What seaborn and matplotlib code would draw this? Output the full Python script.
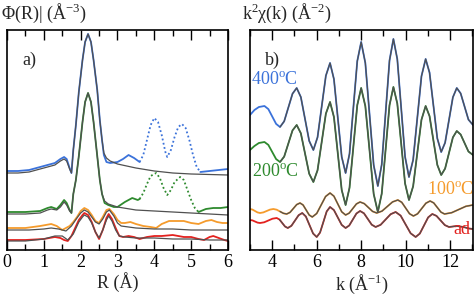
import numpy as np
import pandas as pd
import seaborn as sns
import matplotlib.pyplot as plt
from matplotlib.ticker import MultipleLocator

# ---------------- panel a) : |Phi(R)| (arbitrary offset units) ----------------
blue_R = [0.0, 0.3, 0.6, 0.9, 1.1, 1.3, 1.45, 1.55, 1.62, 1.7, 1.75, 1.8, 1.87, 1.95, 2.05, 2.12, 2.2,
          2.28, 2.35, 2.45, 2.52, 2.58, 2.63, 2.7, 2.8, 3.0, 3.15, 3.3, 3.45, 3.6,
          3.7, 3.8, 3.9, 4.0, 4.1, 4.2, 4.3, 4.35, 4.45, 4.55, 4.65, 4.75, 4.85, 4.95, 5.05, 5.15, 5.25,
          5.5, 5.75, 6.0]
blue_phi = [79, 79, 80, 83, 85, 87, 91, 93, 91, 82, 77, 100, 125, 158, 190, 208, 216,
            208, 190, 160, 130, 110, 95, 88, 87, 88, 91, 95, 92, 88,
            95, 110, 125, 132, 128, 115, 98, 93, 100, 113, 123, 126, 122, 110, 95, 83, 78,
            79, 80, 81]
blue_fit_R = [0.0, 0.3, 0.6, 0.9, 1.1, 1.3, 1.45, 1.55, 1.62, 1.7, 1.75, 1.8, 1.87, 1.95, 2.05, 2.12, 2.2,
              2.28, 2.35, 2.45, 2.52, 2.58, 2.63, 2.7, 2.8, 3.0, 3.5, 4.0, 4.5, 5.0, 5.5, 6.0]
blue_fit_phi = [77, 77, 78, 81, 83, 85, 89, 91, 89, 81, 77, 100, 125, 158, 190, 208, 216,
                208, 190, 160, 130, 110, 97, 92, 89, 86, 82, 79, 77, 76, 75.5, 75]

green_R = [0.0, 0.5, 0.9, 1.1, 1.2, 1.35, 1.45, 1.55, 1.62, 1.7, 1.75, 1.8, 1.87, 1.95, 2.05, 2.12, 2.2,
           2.28, 2.35, 2.45, 2.52, 2.58, 2.65, 2.75, 2.9, 3.0, 3.2, 3.4, 3.55, 3.6,
           3.7, 3.8, 3.9, 4.05, 4.15, 4.25, 4.35, 4.45, 4.55, 4.7, 4.8, 4.9, 5.0, 5.1, 5.2,
           5.4, 5.6, 5.8, 6.0]
green_phi = [38, 38, 39, 42, 43, 41, 45, 50, 47, 40, 37, 56, 70, 94, 128, 148, 157,
             148, 128, 94, 70, 56, 47, 45, 43, 43, 48, 52, 50, 51,
             57, 66, 74, 77, 72, 62, 55, 60, 68, 73, 70, 60, 50, 42, 38,
             41, 42, 42, 43]
green_fit_R = [0.0, 0.5, 0.9, 1.1, 1.2, 1.35, 1.45, 1.55, 1.62, 1.7, 1.75, 1.8, 1.87, 1.95, 2.05, 2.12, 2.2,
               2.28, 2.35, 2.45, 2.52, 2.58, 2.65, 2.75, 3.0, 3.5, 4.0, 4.5, 5.0, 5.5, 6.0]
green_fit_phi = [36, 36, 37, 40, 41, 40, 43, 48, 45, 39, 37, 56, 70, 94, 128, 148, 157,
                 148, 128, 94, 70, 56, 49, 46, 43, 40, 39, 38, 37, 36, 35]

orange_R = [0.0, 0.5, 0.9, 1.2, 1.35, 1.5, 1.6, 1.7, 1.8, 1.9, 2.0, 2.1, 2.2, 2.3, 2.4, 2.5, 2.6, 2.7, 2.78,
            2.9, 3.0, 3.1, 3.2, 3.35, 3.5, 3.7, 3.9, 4.05, 4.2, 4.4, 4.6, 4.8, 5.0, 5.2, 5.4, 5.55, 5.7,
            5.85, 6.0]
orange_phi = [22, 22, 24, 26, 24, 20, 22, 24, 28, 33, 39, 42, 40, 35, 29, 27, 33, 40, 41,
              36, 30, 27, 27, 28, 26, 24, 23, 22, 26, 29, 29, 29, 27, 26, 29, 30, 28,
              27, 27]
orange_fit_R = [0.0, 0.6, 1.0, 1.2, 1.4, 1.6, 1.75, 1.9, 2.0, 2.1, 2.2, 2.3, 2.4, 2.5, 2.6, 2.7, 2.78,
                2.9, 3.0, 3.1, 3.3, 3.5, 4.0, 4.5, 5.0, 6.0]
orange_fit_phi = [20, 20, 21, 22, 21, 19, 24, 32, 37, 40, 38, 33, 28, 26, 31, 38, 40,
                  34, 27, 24, 23, 22, 21, 21, 20, 20]

red_R = [0.0, 0.5, 1.0, 1.3, 1.45, 1.55, 1.65, 1.75, 1.85, 1.95, 2.05, 2.1, 2.2, 2.3, 2.4, 2.5, 2.6, 2.7,
         2.76, 2.85, 2.95, 3.05, 3.15, 3.3, 3.45, 3.6, 3.8, 4.0, 4.2, 4.5, 4.8, 5.0, 5.2, 5.35, 5.5,
         5.6, 5.75, 5.9, 6.0]
red_phi = [10, 10, 11, 13, 12, 10, 9, 14, 22, 30, 35, 37, 35, 28, 18, 11, 20, 32,
           36, 31, 22, 14, 13, 14, 13, 11, 13, 14, 14, 15, 13, 13, 11, 10, 13,
           14, 12, 10, 9]
red_fit_R = [0.0, 0.5, 1.0, 1.3, 1.5, 1.65, 1.8, 1.95, 2.05, 2.1, 2.2, 2.3, 2.4, 2.5, 2.6, 2.7, 2.76,
             2.85, 2.95, 3.05, 3.2, 3.5, 4.0, 4.5, 5.0, 5.5, 6.0]
red_fit_phi = [9, 9, 11, 14, 14, 10, 16, 28, 33, 35, 33, 27, 18, 12, 20, 30, 34,
               29, 20, 14, 13, 12, 12, 11, 11, 10, 10]

# ---------------- panel b) : k^2 chi(k) (arbitrary offset units) ----------------
k_hot = [3.0, 3.2, 3.4, 3.65, 3.825, 4.0, 4.175, 4.35, 4.5375, 4.725, 4.9125, 5.1,
         5.2875, 5.475, 5.6625, 5.85, 6.0375, 6.225, 6.4125, 6.6, 6.775, 6.95, 7.125, 7.3,
         7.475, 7.65, 7.825, 8.0, 8.1875, 8.375, 8.5625, 8.75, 8.925, 9.1, 9.275, 9.45,
         9.625, 9.8, 9.975, 10.15, 10.3375, 10.525, 10.7125, 10.9, 11.075, 11.25, 11.425, 11.6,
         11.775, 11.95, 12.125, 12.3, 12.475, 12.65, 12.825, 13.03]
chi_400 = [135, 140, 143, 144, 140.9, 133.5, 126.1, 123, 128.7, 142.5, 156.3, 162,
           152.9, 131, 109.1, 100, 112.7, 143.5, 174.3, 187, 170.9, 132, 93.1, 77,
           96.1, 142.5, 188.9, 208, 187.0, 136, 85.0, 64, 85.5, 137.5, 189.5, 211,
           190.9, 142, 93.2, 73, 90.2, 132, 173.8, 191, 177.4, 144.5, 111.6, 98,
           107.3, 130, 152.7, 162, 156.6, 143.5, 130.4, 125]
chi_200 = [100, 104, 107, 108, 105.1, 98, 90.9, 88, 93.4, 106.5, 119.6, 125,
           116.7, 96.5, 76.3, 68, 79.7, 108, 136.3, 148, 133.0, 96.5, 60.0, 45,
           62.1, 103.5, 144.9, 162, 143.9, 100, 56.1, 38, 56.3, 100.5, 144.8, 163,
           146.5, 106.5, 66.5, 50, 63.7, 97, 130.3, 144, 133.9, 109.5, 85.1, 75,
           81.4, 97, 112.6, 119, 115.5, 107, 98.5, 95]
k_100 = [3.0, 3.1125, 3.225, 3.3375, 3.45, 3.6, 3.75, 3.9, 4.05, 4.2, 4.35, 4.5, 4.65,
         4.8, 4.95, 5.1, 5.25, 5.3875, 5.525, 5.6625, 5.8, 6.0, 6.2, 6.4, 6.6,
         6.775, 6.95, 7.125, 7.3, 7.4625, 7.625, 7.7875, 7.95, 8.1375, 8.325, 8.5125, 8.7,
         8.9375, 9.175, 9.4125, 9.65, 9.825, 10.0, 10.175, 10.35, 10.5375, 10.725, 10.9125, 11.1,
         11.2625, 11.425, 11.5875, 11.75, 12.07, 12.39, 12.71, 13.03]
chi_100 = [41, 40.4, 39, 37.6, 37, 37.6, 39, 40.4, 41, 40.3, 38.5, 36.7, 36,
           37.6, 41.5, 45.4, 47, 45.0, 40, 35.0, 33, 36.5, 45, 53.5, 57,
           53.8, 46, 38.2, 35, 36.9, 41.5, 46.1, 48, 46.4, 42.5, 38.6, 37,
           38.9, 43.5, 48.1, 50, 47.7, 42, 36.3, 34, 36.2, 41.5, 46.8, 49,
           47.1, 42.5, 37.9, 36, 37.3, 40.5, 43.7, 45]
k_ad = [3.0, 3.1125, 3.225, 3.3375, 3.45, 3.6375, 3.825, 4.0125, 4.2, 4.325, 4.45, 4.575, 4.7,
        4.8625, 5.025, 5.1875, 5.35, 5.5125, 5.675, 5.8375, 6.0, 6.15, 6.3, 6.45, 6.6,
        6.775, 6.95, 7.125, 7.3, 7.4625, 7.625, 7.7875, 7.95, 8.125, 8.3, 8.475, 8.65,
        8.875, 9.1, 9.325, 9.55, 9.775, 10.0, 10.225, 10.45, 10.6375, 10.825, 11.0125, 11.2,
        11.3875, 11.575, 11.7625, 11.95, 12.3, 12.6, 12.85, 13.03]
chi_ad = [30, 29.6, 28.5, 27.4, 27, 27.7, 29.5, 31.3, 32, 30.5, 27, 23.5, 22,
          24.2, 29.5, 34.8, 37, 33.5, 25, 16.5, 13, 17.4, 28, 38.6, 43,
          39.9, 32.5, 25.1, 22, 24.5, 30.5, 36.5, 39, 36.7, 31, 25.3, 23,
          25.2, 30.5, 35.8, 38, 34.4, 25.5, 16.7, 13, 16.4, 24.5, 32.6, 36,
          34.1, 29.5, 24.9, 23, 24, 23, 21.5, 21]

x_ticks_R = [0, 1, 2, 3, 4, 5, 6]
x_ticks_k = [4, 6, 8, 10, 12]
labels_T = ['400$^{\\rm o}$C', '200$^{\\rm o}$C', '100$^{\\rm o}$C', 'ad']

# ---------------- styling ----------------
sns.set_theme(style="white")
plt.rcParams['font.family'] = ['Liberation Serif', 'DejaVu Serif']
plt.rcParams['mathtext.fontset'] = 'custom'
plt.rcParams['mathtext.rm'] = 'Liberation Serif'
plt.rcParams['mathtext.it'] = 'Liberation Serif:italic'
plt.rcParams['mathtext.bf'] = 'Liberation Serif:bold'

BLUE, GREEN, ORANGE, RED, FIT = '#3b72da', '#2e8a2e', '#f59b2c', '#e3221f', '#505050'
DATA_LW, FIT_LW = 1.3, 0.9
FS = 13

W, H = 474, 296
fig = plt.figure(figsize=(W / 100, H / 100), dpi=100)
axL = fig.add_axes([7 / W, 46 / H, 221 / W, 220 / H])
axR = fig.add_axes([250 / W, 46 / H, 223 / W, 220 / H])


def draw(ax, x, y, color, lw, ls='-'):
    x = np.asarray(x, float)
    y = np.asarray(y, float)
    if len(x) < 2:
        return
    sns.lineplot(x=x, y=y, ax=ax, color=color, lw=lw, linestyle=ls,
                 legend=False, estimator=None, sort=False)


def draw_split(ax, x, y, color, lo, hi):
    x = np.asarray(x, float)
    y = np.asarray(y, float)
    m1 = x <= lo
    m2 = (x >= lo) & (x <= hi)
    m3 = x >= hi
    draw(ax, x[m1], y[m1], color, DATA_LW)
    draw(ax, x[m2], y[m2], color, DATA_LW, ls=(0, (1, 1.4)))
    draw(ax, x[m3], y[m3], color, DATA_LW)


# panel a
draw_split(axL, blue_R, blue_phi, BLUE, 3.6, 5.25)
draw_split(axL, green_R, green_phi, GREEN, 3.6, 5.2)
draw(axL, orange_R, orange_phi, ORANGE, DATA_LW)
draw(axL, red_R, red_phi, RED, DATA_LW)
for fx, fy in [(blue_fit_R, blue_fit_phi), (green_fit_R, green_fit_phi),
               (orange_fit_R, orange_fit_phi), (red_fit_R, red_fit_phi)]:
    draw(axL, fx, fy, FIT, FIT_LW)

# panel b
FIT_KMIN = 4.3
for kx, ky, c in [(k_hot, chi_400, BLUE), (k_hot, chi_200, GREEN),
                  (k_100, chi_100, ORANGE), (k_ad, chi_ad, RED)]:
    draw(axR, kx, ky, c, DATA_LW)
for kx, ky in [(k_hot, chi_400), (k_hot, chi_200), (k_100, chi_100), (k_ad, chi_ad)]:
    kx = np.asarray(kx, float)
    ky = np.asarray(ky, float)
    m = kx >= FIT_KMIN
    draw(axR, kx[m], ky[m], FIT, FIT_LW)

for ax in (axL, axR):
    ax.set_ylim(0, 220)
    ax.set_yticks([])
    ax.set_ylabel('')
    ax.tick_params(axis='x', which='both', direction='in', top=True, bottom=True,
                   labelsize=FS, pad=3, colors='black', width=1.0)
    ax.tick_params(axis='x', which='major', length=7)
    ax.tick_params(axis='x', which='minor', length=4)
    for s in ax.spines.values():
        s.set_color('black')
        s.set_linewidth(1.2)

axL.set_xlim(0, 6)
axL.set_xticks(x_ticks_R)
axL.xaxis.set_minor_locator(MultipleLocator(0.5))
axL.set_xlabel('R (Å)', fontsize=FS, labelpad=1)

axR.set_xlim(3.0, 13.03)
axR.set_xticks(x_ticks_k)
axR.xaxis.set_minor_locator(MultipleLocator(1))
axR.set_xlabel('k (Å$^{-1}$)', fontsize=FS, labelpad=1)


def ftext(px, py, s, size=FS, **kw):
    fig.text(px / W, 1 - py / H, s, va='center', ha='left', fontsize=size, **kw)


ftext(1, 13, 'Φ(R)| (Å$^{-3}$)')
ftext(242, 13, 'k$^{2}$χ(k) (Å$^{-2}$)')
ftext(22, 60, 'a)')
ftext(265, 60, 'b)')
ftext(251, 80, labels_T[0], color=BLUE)
ftext(252, 171, labels_T[1], color=GREEN)
ftext(427, 190, labels_T[2], color=ORANGE)
ftext(453, 230, labels_T[3], color=RED)

fig.savefig('out.png', dpi=100)
